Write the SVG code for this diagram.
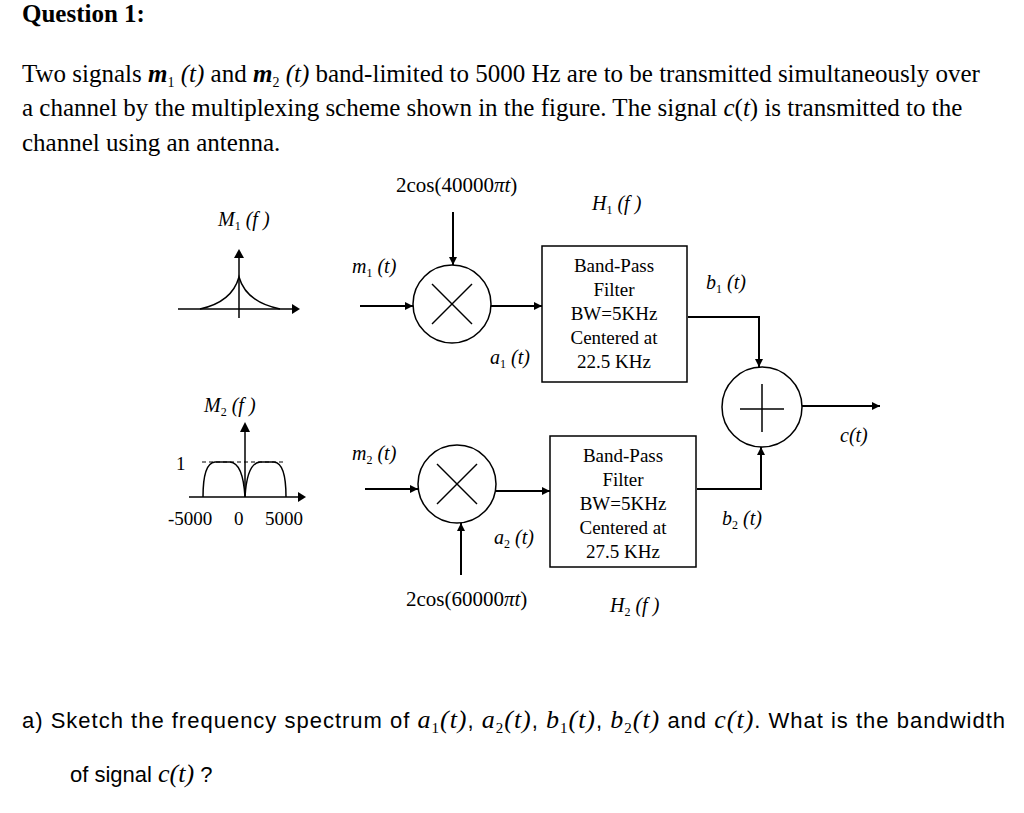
<svg xmlns="http://www.w3.org/2000/svg" width="1024" height="813" viewBox="0 0 1024 813">
<defs>
<marker id="ah" viewBox="0 0 10 10" refX="10" refY="5" markerWidth="8" markerHeight="8" markerUnits="userSpaceOnUse" orient="auto"><path d="M0,0 L10,5 L0,10 z" fill="#000"/></marker>
<style>
.t{font-family:"Liberation Serif",serif;font-size:25px;fill:#000}
.s{font-family:"Liberation Serif",serif;font-size:19px;fill:#000}
.c{font-family:"Liberation Serif",serif;font-size:21px;fill:#000}
.i{font-family:"Liberation Serif",serif;font-size:20px;font-style:italic;fill:#000}
.sub{font-size:12px;font-style:normal}
.b{font-family:"Liberation Sans",sans-serif;font-size:22px;fill:#000}
.m{font-family:"Liberation Serif",serif;font-style:italic;font-size:26px}
.ms{font-family:"Liberation Serif",serif;font-size:15px}
.ln{stroke:#000;stroke-width:1.5;fill:none}
.ar{stroke:#000;stroke-width:2;fill:none;marker-end:url(#ah)}
</style>
</defs>
<rect width="1024" height="813" fill="#fff"/>
<text x="22" y="22" class="t" font-weight="bold">Question 1:</text>
<text x="22" y="82" class="t">Two signals <tspan font-style="italic" font-weight="bold">m</tspan><tspan font-size="14" dy="5">1</tspan><tspan dy="-5" font-style="italic"> (t)</tspan> and <tspan font-style="italic" font-weight="bold">m</tspan><tspan font-size="14" dy="5">2</tspan><tspan dy="-5" font-style="italic"> (t)</tspan> band-limited to 5000 Hz are to be transmitted simultaneously over</text>
<text x="22" y="116" class="t">a channel by the multiplexing scheme shown in the figure. The signal <tspan font-style="italic">c</tspan>(<tspan font-style="italic">t</tspan>) is transmitted to the</text>
<text x="22" y="151" class="t">channel using an antenna.</text>

<g id="spectrum1">
<text x="218" y="226" class="i">M<tspan class="sub" dy="4">1</tspan><tspan dy="-4"> (f )</tspan></text>
<line x1="178" y1="309" x2="292" y2="309" class="ln"/>
<path d="M292,304 L300,309 L292,314 z"/>
<line x1="239" y1="318" x2="239" y2="256" class="ln"/>
<path d="M234,258 L239,249 L244,258 z"/>
<path d="M200,309 Q232,302 239,277 Q246,302 280,309" class="ln"/>
</g>
<g id="spectrum2">
<text x="204" y="412" class="i">M<tspan class="sub" dy="4">2</tspan><tspan dy="-4"> (f )</tspan></text>
<text x="176" y="470" class="s">1</text>
<line x1="189" y1="497" x2="298" y2="497" class="ln"/>
<path d="M298,492 L306,497 L298,502 z"/>
<line x1="245" y1="497" x2="245" y2="430" class="ln"/>
<path d="M240,432 L245,422 L250,432 z"/>
<line x1="202" y1="462" x2="286" y2="462" stroke="#000" stroke-width="1" stroke-dasharray="4,3"/>
<path d="M203,497 Q203,463 215,462 L230,462 Q243,463 245,497 Q247,463 260,462 L274,462 Q286,463 286,497" class="ln"/>
<text x="168" y="525" class="s">-5000</text>
<text x="234" y="525" class="s">0</text>
<text x="265" y="525" class="s">5000</text>
</g>

<g id="mixer1">
<circle cx="452" cy="304" r="39" class="ln"/>
<line x1="432" y1="284" x2="472" y2="324" class="ln"/>
<line x1="472" y1="284" x2="432" y2="324" class="ln"/>
</g>
<g id="mixer2">
<circle cx="457" cy="484" r="39" class="ln"/>
<line x1="437" y1="464" x2="477" y2="504" class="ln"/>
<line x1="477" y1="464" x2="437" y2="504" class="ln"/>
</g>
<g id="bpf1">
<rect x="542" y="246" width="145" height="136" class="ln"/>
<text class="s" text-anchor="middle"><tspan x="614" y="272">Band-Pass</tspan><tspan x="614" y="296">Filter</tspan><tspan x="614" y="320">BW=5KHz</tspan><tspan x="614" y="344">Centered at</tspan><tspan x="614" y="368">22.5 KHz</tspan></text>
</g>
<g id="bpf2">
<rect x="550" y="436" width="146" height="131" class="ln"/>
<text class="s" text-anchor="middle"><tspan x="623" y="462">Band-Pass</tspan><tspan x="623" y="486">Filter</tspan><tspan x="623" y="510">BW=5KHz</tspan><tspan x="623" y="534">Centered at</tspan><tspan x="623" y="558">27.5 KHz</tspan></text>
</g>
<g id="adder">
<circle cx="762" cy="407" r="40" class="ln"/>
<line x1="740" y1="409" x2="784" y2="409" class="ln"/>
<line x1="762" y1="384" x2="762" y2="432" class="ln"/>
</g>

<g id="connectors">
<line x1="453" y1="212" x2="453" y2="265" class="ar"/>
<line x1="360" y1="306" x2="413" y2="306" class="ar"/>
<line x1="491" y1="306" x2="542" y2="306" class="ar"/>
<line x1="461" y1="575" x2="461" y2="523" class="ar"/>
<line x1="365" y1="489" x2="418" y2="489" class="ar"/>
<line x1="496" y1="491" x2="550" y2="491" class="ar"/>
<polyline points="688,317 759,317 759,367" class="ar"/>
<polyline points="697,489 761,489 761,447" class="ar"/>
<line x1="802" y1="406" x2="880" y2="406" class="ar"/>
</g>

<g id="labels">
<text x="396" y="192" class="c">2cos(40000<tspan font-style="italic">πt</tspan>)</text>
<text x="592" y="210" class="i">H<tspan class="sub" dy="4">1</tspan><tspan dy="-4"> (f )</tspan></text>
<text x="352" y="273" class="i">m<tspan class="sub" dy="4">1</tspan><tspan dy="-4"> (t)</tspan></text>
<text x="490" y="364" class="i">a<tspan class="sub" dy="4">1</tspan><tspan dy="-4"> (t)</tspan></text>
<text x="706" y="289" class="i">b<tspan class="sub" dy="4">1</tspan><tspan dy="-4"> (t)</tspan></text>
<text x="840" y="442" class="i">c(t)</text>
<text x="352" y="460" class="i">m<tspan class="sub" dy="4">2</tspan><tspan dy="-4"> (t)</tspan></text>
<text x="494" y="544" class="i">a<tspan class="sub" dy="4">2</tspan><tspan dy="-4"> (t)</tspan></text>
<text x="722" y="525" class="i">b<tspan class="sub" dy="4">2</tspan><tspan dy="-4"> (t)</tspan></text>
<text x="406" y="606" class="c">2cos(60000<tspan font-style="italic">πt</tspan>)</text>
<text x="610" y="612" class="i">H<tspan class="sub" dy="4">2</tspan><tspan dy="-4"> (f )</tspan></text>
</g>

<text x="22" y="728" class="b" textLength="983" lengthAdjust="spacing">a)   Sketch the frequency spectrum of <tspan class="m">a</tspan><tspan class="ms" dy="5">1</tspan><tspan dy="-5" class="m">(t)</tspan>, <tspan class="m">a</tspan><tspan class="ms" dy="5">2</tspan><tspan dy="-5" class="m">(t)</tspan>, <tspan class="m">b</tspan><tspan class="ms" dy="5">1</tspan><tspan dy="-5" class="m">(t)</tspan>, <tspan class="m">b</tspan><tspan class="ms" dy="5">2</tspan><tspan dy="-5" class="m">(t)</tspan> and <tspan class="m">c(t)</tspan>. What is the bandwidth</text>
<text x="70" y="782" class="b">of signal <tspan class="m">c(t)</tspan> ?</text>
</svg>
